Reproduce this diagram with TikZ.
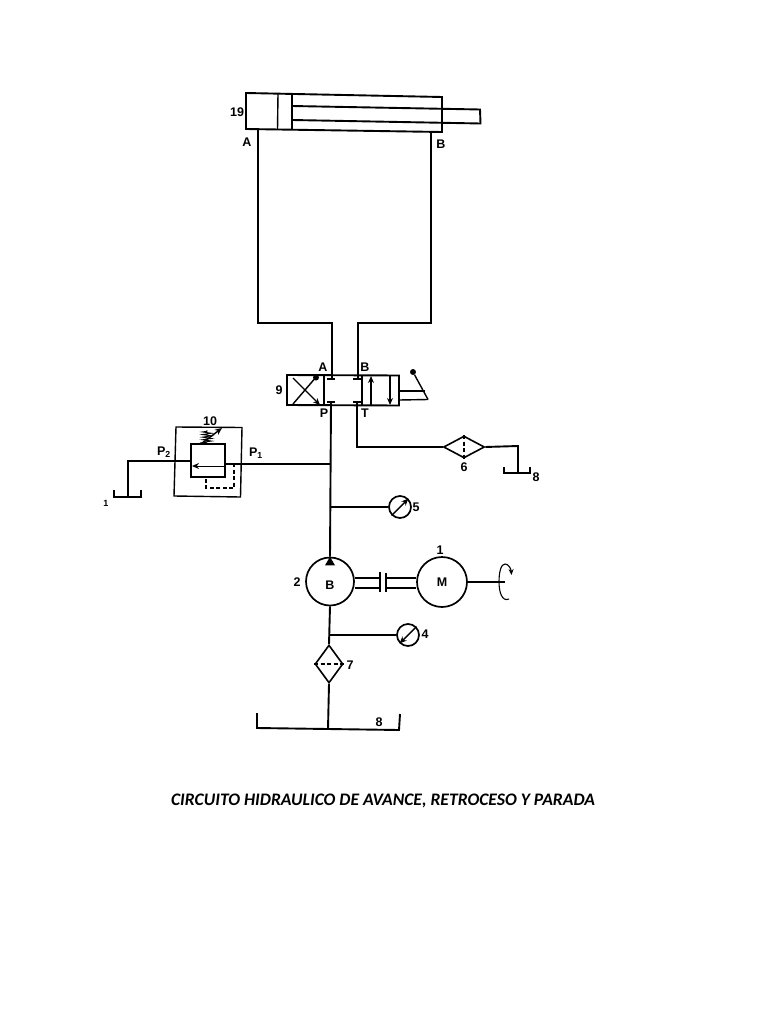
\documentclass[tikz,border=0pt]{standalone}
\usepackage{fontspec}
\setmainfont{Liberation Sans}
\newfontfamily\capfont{Carlito}
\usetikzlibrary{shapes.geometric,arrows.meta,decorations.pathmorphing}
\tikzset{
  pipe/.style={line width=1.9pt,line join=miter,black},
  thin pipe/.style={line width=1.4pt,black},
  dashpipe/.style={line width=1.3pt,dash pattern=on 4pt off 2.5pt,black},
  lab/.style={inner sep=0pt,font=\fontsize{12.5}{12.5}\selectfont\bfseries,black},
  roundcomp/.style={circle,draw=black,line width=1.7pt,inner sep=0pt,minimum size=#1},
  filt/.style={diamond,draw=black,line width=1.6pt,inner sep=0pt},
  tip/.style={-{Stealth[length=7pt,width=6pt]}},
  dot/.style={circle,fill=black,inner sep=0pt,minimum size=6pt}
}
\begin{document}
\begin{tikzpicture}[x=1pt,y=-1pt]
\useasboundingbox[fill=white] (0,0) rectangle (768,1024);
% cylinder
\coordinate (c1) at (246,93);\coordinate (c2) at (442,97);\coordinate (c3) at (442,132);\coordinate (c4) at (246,129);
\draw[pipe] (c1)--(c2)--(c3)--(c4)--cycle;
\coordinate (p1) at (278,93.6);\coordinate (p2) at (277.5,129.6);
\coordinate (p3) at (292,94);\coordinate (p4) at (292,130);
\draw[thin pipe] (p1)--(p2);
\draw[thin pipe] (p3)--(p4);
\coordinate (r1) at (292,106);\coordinate (r2) at (480,109.5);\coordinate (r3) at (480.5,123.5);\coordinate (r4) at (292,120);
\draw[pipe] (r1)--(r2)--(r3)--(r4);
\node[lab] (l19) at (237,112) {19};
\node[lab] (lcA) at (247,142) {A};
\node[lab] (lcB) at (441,144) {B};
% valve
\coordinate (v1) at (287,375);\coordinate (v2) at (399,375.5);\coordinate (v3) at (399,405.5);\coordinate (v4) at (287,405);
\draw[pipe] (v1)--(v2)--(v3)--(v4)--cycle;
\coordinate (d1t) at (324,375);\coordinate (d1b) at (324,405);
\coordinate (d2t) at (362,375);\coordinate (d2b) at (362,405);
\draw[thin pipe] (d1t)--(d1b);
\draw[thin pipe] (d2t)--(d2b);
\coordinate (x1) at (293,378);\coordinate (x2) at (320,405);\coordinate (x3) at (293,404);\coordinate (x4) at (317,376);
\draw[thin pipe,tip] (x1)--(x2);
\draw[thin pipe] (x3)--(x4);
\node[dot] (xd) at (316,377.5) {};
\coordinate (u1) at (371,405);\coordinate (u2) at (371,376);
\draw[thin pipe,tip] (u1)--(u2);
\coordinate (w1) at (390,376);\coordinate (w2) at (390,405);
\draw[thin pipe,tip] (w1)--(w2);
% port tees
\coordinate (ta) at (331,379);\coordinate (tb) at (357,379);\coordinate (tp) at (331,402);\coordinate (tt) at (357,402);
\foreach \t in {ta,tb,tp,tt}{\draw[line width=1.2pt] ([xshift=-4pt]\t)--([xshift=4pt]\t);}
% lever
\coordinate (h1) at (399,391);\coordinate (h2) at (425,391);\coordinate (h3) at (399,400);\coordinate (h4) at (428,399.5);
\draw[thin pipe] (h1)--(h2);
\draw[thin pipe] (h3)--(h4);
\node[dot] (lev) at (413,372) {};
\draw[thin pipe] (lev)--(h4);
\node[lab] (l9) at (279,390) {9};
\node[lab] (lvA) at (323,367) {A};
\node[lab] (lvB) at (365,367) {B};
\node[lab] (lvP) at (324,413) {P};
\node[lab] (lvT) at (365,413) {T};
% cylinder pipes
\coordinate (a1) at (258,130);\coordinate (a2) at (258,323);\coordinate (a3) at (332,323);
\coordinate (b1) at (431,132);\coordinate (b2) at (431,323);\coordinate (b3) at (358,323);
\draw[pipe] (a1)--(a2)--(a3)--(ta-|a3);
\draw[pipe] (b1)--(b2)--(b3)--(tb-|b3);
% T line and filter 6
\node[filt,aspect=1.9,minimum width=41pt,minimum height=22pt] (f6) at (464,447) {};
\coordinate (t1) at (357,447);
\draw[pipe] (tt)--(t1)--(f6.west);
\draw[dashpipe] (f6.north)--(f6.south);
\coordinate (t2) at (518,446);\coordinate (t3) at (518,473);
\draw[pipe] (f6.east)--(t2)--(t3);
\coordinate (tk1) at (504,467);\coordinate (tk2) at (504,473);\coordinate (tk3) at (530,473);\coordinate (tk4) at (530,467);
\draw[pipe] (tk1)--(tk2)--(tk3)--(tk4);
\node[lab] (l6) at (464,467) {6};
\node[lab] (l8a) at (536,477) {8};
% relief valve
\coordinate (o1) at (176,427);\coordinate (o2) at (242,427.5);\coordinate (o3) at (240.5,497);\coordinate (o4) at (174,496);
\draw[thin pipe] (o1)--(o2)--(o3)--(o4)--cycle;
\node[draw=black,line width=1.4pt,minimum width=34pt,minimum height=33pt,inner sep=0pt] (rv) at (208,460.5) {};
\coordinate (m1) at (128,461);\coordinate (m2) at (128,497);\coordinate (j) at (330,464);
\draw[pipe] (rv.west|-m1)--(m1)--(m2);
\coordinate (m3) at (114,490);\coordinate (m4) at (114,497);\coordinate (m5) at (141,497);\coordinate (m6) at (141,490);
\draw[pipe] (m3)--(m4)--(m5)--(m6);
\draw[pipe] (rv.east|-j)--(j);
\coordinate (ra) at (224,466);\coordinate (rb) at (192,466);
\draw[line width=1pt,tip] (ra)--(rb);
\coordinate (dd1) at (234,463);\coordinate (dd2) at (234,488);\coordinate (dd3) at (206,488);\coordinate (dd4) at (206,477);
\draw[dashpipe] (dd1)--(dd2)--(dd3)--(dd4);
\coordinate (sp1) at (207,443);\coordinate (sp2) at (207,430);
\draw[line width=.9pt,decorate,decoration={zigzag,segment length=2.6pt,amplitude=4.5pt}] (sp1)--(sp2);
\coordinate (ar1) at (201,444);\coordinate (ar2) at (222,428);
\draw[thin pipe,tip] (ar1)--(ar2);
\node[lab] (l10) at (210,421) {10};
\node[lab] (lp2) at (164,452) {P$_{\mathbf 2}$};
\node[lab] (lp1) at (256,453) {P$_{\mathbf 1}$};
\node[lab] (l1a) at (106,503) {\fontsize{9}{9}\selectfont 1};
% pump and motor
\node[roundcomp=48pt] (pump) at (330,581.5) {};
\node[roundcomp=50pt] (mot) at (442,582) {};
\draw[pipe] (tp)--(pump.north);
\node[isosceles triangle,isosceles triangle apex angle=60,shape border rotate=90,fill=black,inner sep=0pt,minimum height=8pt,minimum width=10pt] (tri) at (330,562.5) {};
\node[lab] (lB) at (330,585) {B};
\node[lab] (lM) at (442,582) {M};
\node[lab] (l2) at (297,582) {2};
\node[lab] (l1) at (440,550) {1};
\coordinate (s1) at (380,578);\coordinate (s2) at (380,588);\coordinate (s3) at (386,578);\coordinate (s4) at (386,588);
\draw[line width=2.4pt] (pump.east|-s1)--(s1);
\draw[thin pipe] (pump.east|-s2)--(s2);
\draw[line width=2.4pt] (s3)--(s3-|mot.west);
\draw[thin pipe] (s4)--(s4-|mot.west);
\coordinate (k1) at (380,572);\coordinate (k2) at (380,592);\coordinate (k3) at (386,573);\coordinate (k4) at (386,592);
\draw[thin pipe] (k1)--(k2);
\draw[thin pipe] (k3)--(k4);
\coordinate (sh) at (505,582);
\draw[pipe] (mot.east)--(sh);
\coordinate (rot0) at (509,599);\coordinate (rot1) at (499,582);\coordinate (rot2) at (505,564);\coordinate (rot3) at (511.5,575);
\draw[line width=1.1pt,-{Stealth[length=6pt,width=5pt]}] (rot0) .. controls (502,602) and (499,592) .. (rot1) .. controls (499,572) and (501,564) .. (rot2) .. controls (508,564) and (511,568) .. (rot3);
% gauges
\node[roundcomp=22pt] (g5) at (400,507) {};
\coordinate (j5) at (330,507);
\draw[pipe] (j5)--(g5.west);
\draw[thin pipe,tip] (g5.south west)--(g5.north east);
\node[lab] (l5) at (416,507) {5};
\node[roundcomp=22pt] (g4) at (408,635) {};
\coordinate (j4) at (329.5,635);
\draw[pipe] (j4)--(g4.west);
\draw[thin pipe,tip] (g4.north east)--(g4.south west);
\node[lab] (l4) at (425,634) {4};
% filter 7
\node[filt,aspect=.74,minimum width=28pt,minimum height=38pt] (f7) at (329,664) {};
\draw[pipe] (pump.south)--(f7.north);
\draw[dashpipe] (f7.west)--(f7.east);
\node[lab] (l7) at (350,665) {7};
% main tank
\coordinate (b8) at (328,729);
\draw[pipe] (f7.south)--(b8);
\coordinate (q1) at (257,713);\coordinate (q2) at (257,728);\coordinate (q3) at (399,730);\coordinate (q4) at (400,714);
\draw[pipe] (q1)--(q2)--(q3)--(q4);
\node[lab] (l8b) at (379,722) {8};
% caption
\node[inner sep=0pt,font=\capfont\fontsize{17.6}{17.6}\selectfont\bfseries\itshape] (cap) at (383,801) {CIRCUITO HIDRAULICO DE AVANCE, RETROCESO Y PARADA};
\end{tikzpicture}
\end{document}
